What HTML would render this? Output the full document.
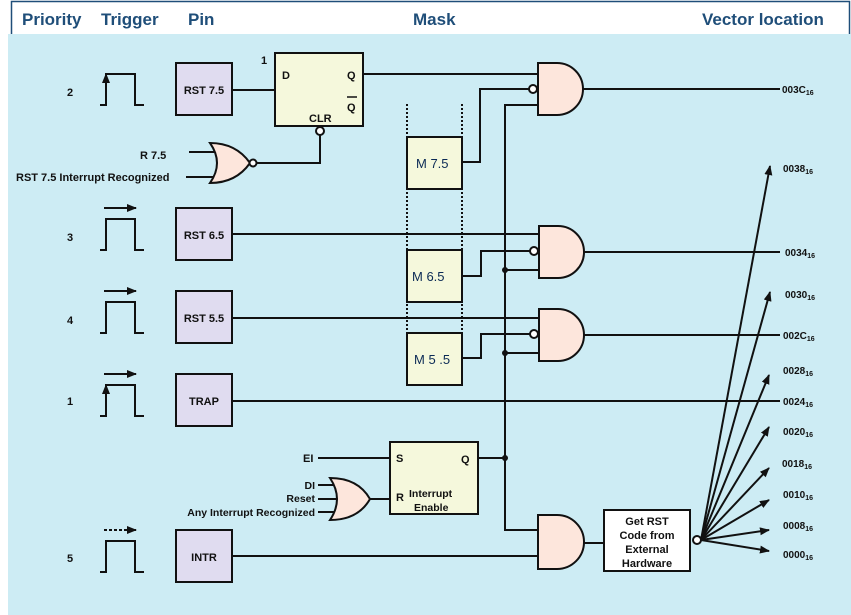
<!DOCTYPE html>
<html><head><meta charset="utf-8"><style>
body{margin:0;background:#fff}
svg{display:block}
text{font-family:"Liberation Sans",Arial,sans-serif;font-weight:bold;fill:#111}
.h{font-size:17px;fill:#1f4e79}
.s{font-size:11px}
.v{font-size:10px}
.sub{font-size:7px}
.m{font-weight:normal;font-size:13px;fill:#0b2a55}
</style></head><body>
<svg width="851" height="615" viewBox="0 0 851 615" xmlns="http://www.w3.org/2000/svg">
<defs>
<marker id="ar" markerWidth="10" markerHeight="8" refX="9" refY="4" orient="auto" markerUnits="userSpaceOnUse"><path d="M0,0 L10,4 L0,8 Z" fill="#111"/></marker>
</defs>
<rect x="11.5" y="1.5" width="838" height="40" fill="#fff" stroke="#1f4e79" stroke-width="1.5"/>
<rect x="8" y="34" width="843" height="581" fill="#cdecf4"/>
<text class="h" x="22" y="25">Priority</text>
<text class="h" x="101" y="25">Trigger</text>
<text class="h" x="188" y="25">Pin</text>
<text class="h" x="413" y="25">Mask</text>
<text class="h" x="702" y="25">Vector location</text>

<g class="s">
<text x="67" y="96">2</text><text x="67" y="241">3</text><text x="67" y="324">4</text><text x="67" y="405">1</text><text x="67" y="562">5</text>
</g>

<g fill="none" stroke="#111" stroke-width="2">
<path d="M100,105 H106 V74 H135 V105 H144"/>
<path d="M100,250 H106 V219 H135 V250 H144"/>
<path d="M100,333 H106 V302 H135 V333 H144"/>
<path d="M100,416 H106 V385 H135 V416 H144"/>
<path d="M100,572 H106 V541 H135 V572 H144"/>
<line x1="104" y1="208" x2="136" y2="208" marker-end="url(#ar)"/>
<line x1="104" y1="291" x2="136" y2="291" marker-end="url(#ar)"/>
<line x1="104" y1="374" x2="136" y2="374" marker-end="url(#ar)"/>
<line x1="104" y1="530" x2="136" y2="530" stroke-dasharray="3,2" marker-end="url(#ar)"/>
<line x1="106" y1="90" x2="106" y2="74" marker-end="url(#ar)"/>
<line x1="106" y1="400" x2="106" y2="385" marker-end="url(#ar)"/>
</g>

<g stroke="#111" stroke-width="2" fill="#e0dcf0">
<rect x="176" y="63" width="56" height="52"/>
<rect x="176" y="208" width="56" height="52"/>
<rect x="176" y="291" width="56" height="52"/>
<rect x="176" y="374" width="56" height="52"/>
<rect x="176" y="530" width="56" height="52"/>
</g>
<g class="s" text-anchor="middle">
<text x="204" y="94">RST 7.5</text><text x="204" y="239">RST 6.5</text><text x="204" y="322">RST 5.5</text><text x="204" y="405">TRAP</text><text x="204" y="561">INTR</text>
</g>

<g stroke="#111" stroke-width="2" stroke-dasharray="2,2">
<line x1="407" y1="104" x2="407" y2="385"/><line x1="462" y1="104" x2="462" y2="385"/>
</g>

<g fill="none" stroke="#111" stroke-width="2">
<line x1="232" y1="90" x2="275" y2="90"/>
<line x1="363" y1="74" x2="538" y2="74"/>
<path d="M320,135 V163 H257"/>
<line x1="189" y1="152" x2="215" y2="152"/>
<line x1="186" y1="177" x2="215" y2="177"/>
<path d="M462,162 H480 V89 H529"/>
<path d="M462,276 H481 V251 H530"/>
<path d="M462,358 H481 V334 H530"/>
<line x1="232" y1="234" x2="539" y2="234"/>
<line x1="232" y1="318" x2="539" y2="318"/>
<path d="M538,105 H505 V530 H538"/>
<line x1="505" y1="270" x2="539" y2="270"/>
<line x1="505" y1="353" x2="539" y2="353"/>
<line x1="583" y1="89" x2="780" y2="89"/>
<line x1="584" y1="252" x2="780" y2="252"/>
<line x1="584" y1="335" x2="780" y2="335"/>
<line x1="232" y1="401" x2="780" y2="401"/>
<line x1="318" y1="458" x2="390" y2="458"/>
<line x1="478" y1="458" x2="505" y2="458"/>
<line x1="318" y1="485" x2="340" y2="485"/>
<line x1="318" y1="499" x2="344" y2="499"/>
<line x1="318" y1="512" x2="340" y2="512"/>
<line x1="370" y1="499" x2="390" y2="499"/>
<line x1="232" y1="556" x2="538" y2="556"/>
<line x1="583" y1="543" x2="604" y2="543"/>
</g>
<g fill="#111"><circle cx="505" cy="270" r="3"/><circle cx="505" cy="353" r="3"/><circle cx="505" cy="458" r="3"/></g>

<rect x="275" y="53" width="88" height="73" fill="#f5f8dc" stroke="#111" stroke-width="2"/>
<g class="s"><text x="261" y="64">1</text><text x="282" y="79">D</text><text x="347" y="79">Q</text><text x="347" y="111">Q</text><text x="309" y="122">CLR</text></g>
<line x1="347" y1="97" x2="357" y2="97" stroke="#111" stroke-width="1.5"/>
<circle cx="320" cy="131" r="4" fill="#fff" stroke="#111" stroke-width="2"/>

<path d="M210,143 Q236,143 250,163 Q236,183 210,183 Q224,163 210,143 Z" fill="#fde6dc" stroke="#111" stroke-width="2"/>
<circle cx="253" cy="163" r="3.5" fill="#fff" stroke="#111" stroke-width="2"/>
<text x="140" y="159" class="s">R 7.5</text>
<text x="16" y="181" class="s">RST 7.5 Interrupt Recognized</text>

<g fill="#f5f8dc" stroke="#111" stroke-width="2">
<rect x="407" y="137" width="55" height="52"/><rect x="407" y="250" width="55" height="52"/><rect x="407" y="333" width="55" height="52"/>
</g>
<text class="m" x="416" y="168">M 7.5</text><text class="m" x="412" y="281">M  6.5</text><text class="m" x="414" y="364">M 5 .5</text>

<g fill="#fde6dc" stroke="#111" stroke-width="2">
<path d="M538,63 H557 A26,26 0 0 1 557,115 H538 Z"/>
<path d="M539,226 H558 A26,26 0 0 1 558,278 H539 Z"/>
<path d="M539,309 H558 A26,26 0 0 1 558,361 H539 Z"/>
<path d="M538,515 H557 A27,27 0 0 1 557,569 H538 Z"/>
<path d="M330,478 Q358,478 370,499 Q358,520 330,520 Q344,499 330,478 Z"/>
</g>
<g fill="#fff" stroke="#111" stroke-width="2">
<circle cx="533" cy="89" r="4"/><circle cx="534" cy="251" r="4"/><circle cx="534" cy="334" r="4"/>
</g>

<rect x="390" y="442" width="88" height="72" fill="#f5f8dc" stroke="#111" stroke-width="2"/>
<g class="s"><text x="396" y="462">S</text><text x="461" y="463">Q</text><text x="396" y="501">R</text>
<text x="409" y="497" font-size="10.5">Interrupt</text><text x="414" y="511" font-size="10.5">Enable</text>
<text x="303" y="462">EI</text>
<text x="315" y="489" text-anchor="end" font-size="10.5">DI</text>
<text x="315" y="502" text-anchor="end" font-size="10.5">Reset</text>
<text x="315" y="516" text-anchor="end" font-size="10.5">Any Interrupt Recognized</text></g>

<rect x="604" y="510" width="86" height="61" fill="#fff" stroke="#111" stroke-width="2"/>
<g class="s" text-anchor="middle" font-size="10.5"><text x="647" y="525">Get RST</text><text x="647" y="539">Code from</text><text x="647" y="553">External</text><text x="647" y="567">Hardware</text></g>

<g stroke="#111" stroke-width="2" fill="none">
<line x1="701" y1="540" x2="770" y2="166" marker-end="url(#ar)"/>
<line x1="701" y1="540" x2="770" y2="292" marker-end="url(#ar)"/>
<line x1="701" y1="540" x2="769" y2="375" marker-end="url(#ar)"/>
<line x1="701" y1="540" x2="769" y2="427" marker-end="url(#ar)"/>
<line x1="701" y1="540" x2="769" y2="468" marker-end="url(#ar)"/>
<line x1="701" y1="540" x2="769" y2="500" marker-end="url(#ar)"/>
<line x1="701" y1="540" x2="769" y2="530" marker-end="url(#ar)"/>
<line x1="701" y1="540" x2="769" y2="551" marker-end="url(#ar)"/>
</g>
<circle cx="697" cy="540" r="4" fill="#fff" stroke="#111" stroke-width="2"/>

<g class="v">
<text x="782" y="93">003C<tspan class="sub" dy="2">16</tspan></text>
<text x="783" y="172">0038<tspan class="sub" dy="2">16</tspan></text>
<text x="785" y="256">0034<tspan class="sub" dy="2">16</tspan></text>
<text x="785" y="298">0030<tspan class="sub" dy="2">16</tspan></text>
<text x="783" y="339">002C<tspan class="sub" dy="2">16</tspan></text>
<text x="783" y="374">0028<tspan class="sub" dy="2">16</tspan></text>
<text x="783" y="405">0024<tspan class="sub" dy="2">16</tspan></text>
<text x="783" y="435">0020<tspan class="sub" dy="2">16</tspan></text>
<text x="782" y="467">0018<tspan class="sub" dy="2">16</tspan></text>
<text x="783" y="498">0010<tspan class="sub" dy="2">16</tspan></text>
<text x="783" y="529">0008<tspan class="sub" dy="2">16</tspan></text>
<text x="783" y="558">0000<tspan class="sub" dy="2">16</tspan></text>
</g>
</svg>
</body></html>
